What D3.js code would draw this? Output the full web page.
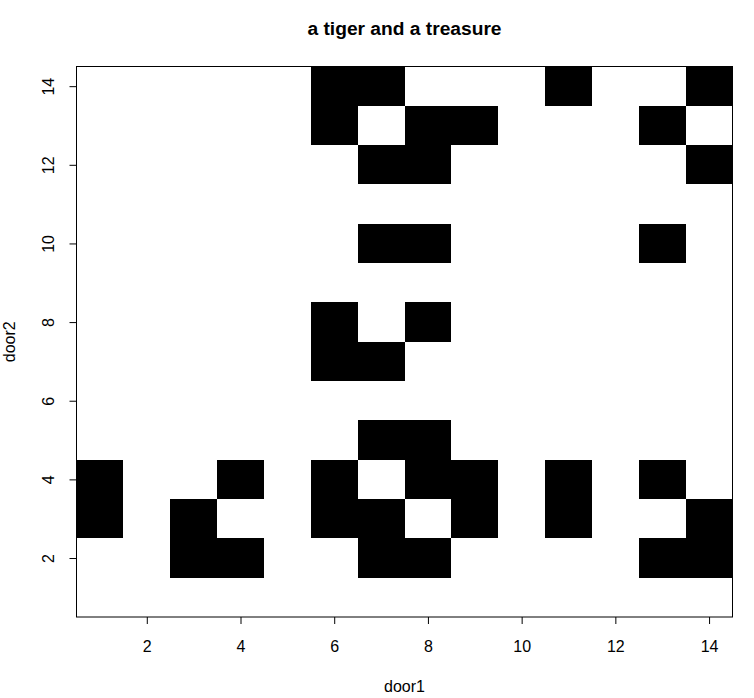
<!DOCTYPE html>
<html><head><meta charset="utf-8">
<script src="https://cdn.jsdelivr.net/npm/d3@7"></script>
<style>body{margin:0;background:#fff}</style>
</head><body>
<svg id="c" width="754" height="698"></svg>
<script>
const door1 = d3.range(1, 15);
const door2 = d3.range(1, 15);
// rows listed from door2 = 1 (bottom) to door2 = 14 (top); each string indexes door1 = 1..14
const rows = [
  "00000000000000",
  "00110011000011",
  "10100110101001",
  "10010101101010",
  "00000011000000",
  "00000000000000",
  "00000110000000",
  "00000101000000",
  "00000000000000",
  "00000011000010",
  "00000000000000",
  "00000011000001",
  "00000101100010",
  "00000110001001"
];
const xTicks = [2, 4, 6, 8, 10, 12, 14];
const yTicks = [2, 4, 6, 8, 10, 12, 14];
const title = "a tiger and a treasure";

const L = 76.5, R = 732.5, T = 66.5, B = 617;
const svg = d3.select("#c");
const x = d3.scaleLinear().domain([0.5, 14.5]).range([L, R]);
const y = d3.scaleLinear().domain([0.5, 14.5]).range([B, T]);
const font = "Liberation Sans, Arial, sans-serif";

const cells = [];
rows.forEach((r, j) => r.split("").forEach((v, i) => cells.push({d1: door1[i], d2: door2[j], v: +v})));
svg.append("g").selectAll("rect").data(cells).join("rect")
  .attr("x", d => x(d.d1 - 0.5)).attr("width", d => x(d.d1 + 0.5) - x(d.d1 - 0.5))
  .attr("y", d => y(d.d2 + 0.5)).attr("height", d => y(d.d2 - 0.5) - y(d.d2 + 0.5))
  .attr("fill", d => d.v ? "#000" : "#fff")
  .attr("shape-rendering", "crispEdges");

svg.append("rect").attr("x", L).attr("y", T).attr("width", R - L).attr("height", B - T)
  .attr("fill", "none").attr("stroke", "#000").attr("stroke-width", 1);

const xa = svg.append("g").attr("transform", `translate(0,${B})`)
  .call(d3.axisBottom(x).tickValues(xTicks).tickSize(7).tickFormat(d3.format("d")));
xa.select(".domain").remove();
xa.selectAll("text").attr("font-family", font).attr("font-size", 16).attr("fill", "#000")
  .attr("y", 35).attr("dy", null);
xa.selectAll("line").attr("stroke", "#000");

const ya = svg.append("g").attr("transform", `translate(${L},0)`)
  .call(d3.axisLeft(y).tickValues(yTicks).tickSize(7).tickFormat(d3.format("d")));
ya.select(".domain").remove();
ya.selectAll("line").attr("stroke", "#000");
ya.selectAll("text")
  .attr("font-family", font).attr("font-size", 16).attr("fill", "#000")
  .attr("x", null).attr("dy", null)
  .attr("text-anchor", "middle")
  .attr("transform", "translate(-23,0) rotate(-90)");

svg.append("text").attr("x", (L + R) / 2).attr("y", 35).attr("text-anchor", "middle")
  .attr("font-family", font).attr("font-size", 19.2).attr("font-weight", "bold").text(title);
svg.append("text").attr("x", (L + R) / 2).attr("y", 692).attr("text-anchor", "middle")
  .attr("font-family", font).attr("font-size", 16).text("door1");
svg.append("text").attr("transform", `translate(15,${(T + B) / 2}) rotate(-90)`).attr("text-anchor", "middle")
  .attr("font-family", font).attr("font-size", 16).text("door2");
</script>
</body></html>
